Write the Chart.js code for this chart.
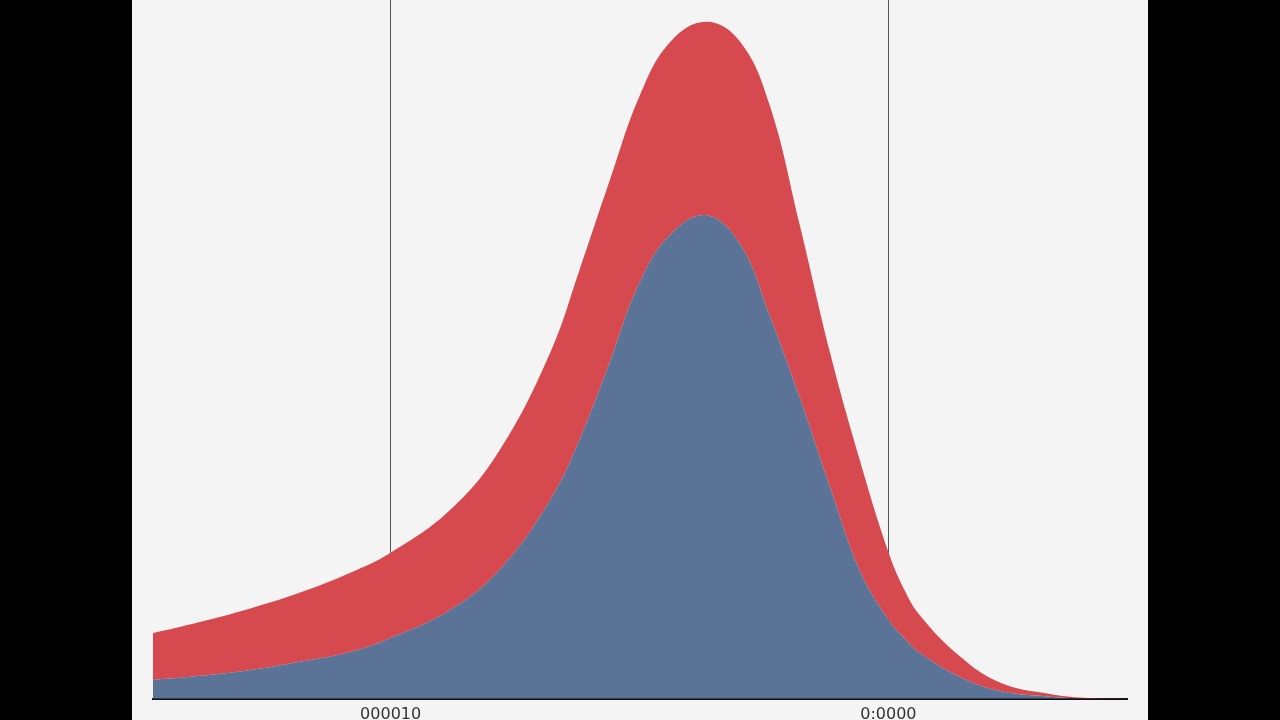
<!DOCTYPE html>
<html>
<head>
<meta charset="utf-8">
<script src="https://cdn.jsdelivr.net/npm/chart.js@4/dist/chart.umd.min.js"></script>
<style>
  html, body { margin: 0; padding: 0; background: #000; overflow: hidden; }
  #wrap { position: absolute; left: 132px; top: 0; width: 1016px; height: 730px; background: #f4f4f4; }
</style>
</head>
<body>
<div id="wrap"><canvas id="chart"></canvas></div>
<script>
const xs = [0, 4.8, 9.9, 15.1, 20.2, 24.4, 30.5, 35.6, 40.8, 43.8, 46.9, 50.0, 53.1, 56.8,
            60.3, 63.3, 66.4, 69.5, 72.6, 75.5, 77.1, 78.7, 82.9, 87.0, 92.1, 96.2, 100];
const blueValues = [2.7, 3.3, 4.1, 5.3, 6.7, 8.7, 12.7, 18.5, 28.5, 37.1, 48.2, 59.7, 66.4, 69.2,
                    65.0, 54.9, 43.1, 30.3, 18.2, 11.3, 8.7, 6.6, 3.1, 1.1, 0.3, 0, 0];
const redValues = [6.7, 7.7, 8.8, 9.9, 11.3, 12.2, 14.3, 17.1, 21.1, 24.3, 26.0, 26.7, 27.6, 27.7,
                   29.0, 30.1, 24.7, 19.3, 15.8, 9.7, 7.0, 5.4, 2.9, 1.2, 0.4, 0.1, 0];
const tickValues = [24.4, 75.5];
const tickLabels = ['000010', '0:0000'];

const pts = arr => arr.map((v, i) => ({ x: xs[i], y: v }));

new Chart(document.getElementById('chart'), {
    type: 'line',
    data: {
        datasets: [
            {
                data: pts(blueValues),
                backgroundColor: '#5a7397',
                fill: 'origin',
                borderWidth: 0,
                pointRadius: 0,
                tension: 0.4
            },
            {
                data: pts(redValues),
                backgroundColor: '#d5494f',
                fill: '-1',
                borderWidth: 0,
                pointRadius: 0,
                tension: 0.4
            }
        ]
    },
    options: {
        responsive: true,
        maintainAspectRatio: false,
        animation: false,
        layout: { padding: { left: 21, right: 21, top: 0, bottom: 0 } },
        plugins: { legend: { display: false }, tooltip: { enabled: false } },
        scales: {
            x: {
                type: 'linear',
                min: 0,
                max: 100,
                afterBuildTicks: s => { s.ticks = tickValues.map(v => ({ value: v })); },
                ticks: {
                    padding: 6,
                    color: '#333',
                    font: { family: 'DejaVu Sans', size: 16 },
                    maxRotation: 0,
                    callback: (v) => tickLabels[tickValues.indexOf(v)]
                },
                grid: { color: '#555', lineWidth: 1, drawTicks: false },
                border: { color: '#111', width: 2 }
            },
            y: {
                display: false,
                stacked: true,
                min: 0,
                max: 100
            }
        }
    }
});
</script>
</body>
</html>
